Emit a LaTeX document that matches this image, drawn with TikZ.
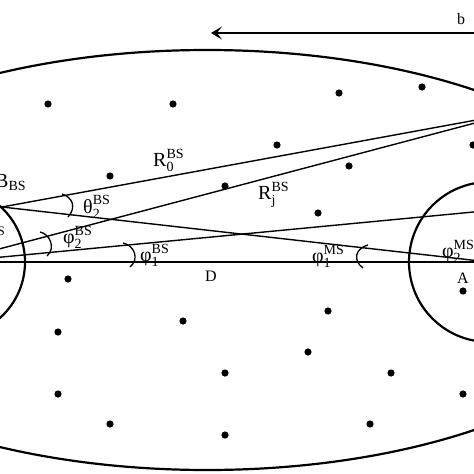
\documentclass[tikz,border=0pt]{standalone}
\usepackage{amsmath}
\usepackage{fontspec}
\setmainfont{Liberation Serif}
\usetikzlibrary{arrows.meta}

% label with stacked sub- and superscript
\newcommand{\lbl}[3]{$\text{#1}_{\text{#2}}^{\text{#3}}$}

\begin{document}
\begin{tikzpicture}[x=1pt, y=-1pt,
        biglbl/.style={font=\fontsize{20}{20}\selectfont, inner sep=0pt},
        midlbl/.style={font=\fontsize{16}{16}\selectfont, inner sep=0pt},
        smalllbl/.style={font=\fontsize{13}{13}\selectfont, inner sep=0pt},
        ray/.style={line width=1.4pt},
        border/.style={line width=2.2pt},
        tick/.style={line width=1.3pt},
        scat/.style={fill=black}]

        \useasboundingbox (0, 0) rectangle (474, 474);
        \clip (0, 0) rectangle (474, 474);

        % Main points of the geometry
        \coordinate (L) at (-50, 262);
        \coordinate (MS) at (489, 262);
        \coordinate (BS) at (2, 207);
        \coordinate (S0) at (509, 114);
        \coordinate (P4) at (530, 206.6);

        \coordinate (bStart) at (480, 33);
        \coordinate (bEnd) at (211, 33);

        % Scattering region and the two local circles
        \begin{scope}[border]
            \draw (207, 260) ellipse [x radius=455, y radius=210];
            \draw (L) circle (75);
            \draw (MS) circle (80);
        \end{scope}

        % Rays
        \begin{scope}[ray]
            \draw (BS) -- (S0);
            \draw (L) -- (S0);
            \draw (BS) -- (MS);
            \draw (L) -- (P4);
            \draw[line width=1.7pt] (L) -- (MS);
            \draw[-{Stealth[length=11pt, width=13pt, inset=5pt]}] (bStart) -- (bEnd);
        \end{scope}

        % Angle marks
        \begin{scope}[tick]
            \draw (62, 194) .. controls (72, 197) and (77, 207) .. (68, 217);
            \draw (40, 232) .. controls (50, 234) and (56, 248) .. (47, 256);
            \draw (123, 243) .. controls (134, 245) and (140, 259) .. (130, 267);
            \draw (368, 245) .. controls (356, 248) and (352, 260) .. (363, 268);
        \end{scope}

        % Scatterers
        \begin{scope}[scat]
            \fill (48, 104) circle (3.6);
            \fill (173, 104) circle (3.6);
            \fill (339, 93) circle (3.6);
            \fill (422, 87) circle (3.6);
            \fill (277, 145) circle (3.6);
            \fill (473, 145) circle (3.6);
            \fill (110, 176) circle (3.6);
            \fill (225, 186) circle (3.6);
            \fill (349, 166) circle (3.6);
            \fill (318, 213) circle (3.6);
            \fill (68, 279) circle (3.6);
            \fill (463, 291) circle (3.6);
            \fill (58, 332) circle (3.6);
            \fill (183, 321) circle (3.6);
            \fill (328, 311) circle (3.6);
            \fill (308, 352) circle (3.6);
            \fill (225, 373) circle (3.6);
            \fill (391, 373) circle (3.6);
            \fill (58, 394) circle (3.6);
            \fill (463, 394) circle (3.6);
            \fill (110, 424) circle (3.6);
            \fill (225, 435) circle (3.6);
            \fill (370, 424) circle (3.6);
        \end{scope}

        % Labels
        \node[biglbl, anchor=base west] (lR0) at (153, 166) {\lbl{R}{0}{BS}};
        \node[biglbl, anchor=base west] (lRj) at (258, 199) {\lbl{R}{j}{BS}};
        \node[biglbl, anchor=base west] (lth2) at (83, 213) {\lbl{θ}{2}{BS}};
        \node[biglbl, anchor=base west] (lph2) at (63, 243) {\lbl{φ}{2}{BS}};
        \node[biglbl, anchor=base west] (lph1) at (140, 261) {\lbl{φ}{1}{BS}};
        \node[biglbl, anchor=base west] (lph1m) at (312, 262) {\lbl{φ}{1}{MS}};
        \node[biglbl, anchor=base west] (lph2m) at (442, 257) {\lbl{φ}{2}{MS}};
        \node[biglbl, anchor=base west] (lB) at (-5, 187) {$\text{B}_{\text{BS}}$};
        \node[smalllbl, anchor=base east] (lMS) at (5, 235) {MS};
        \node[midlbl, anchor=base west] (lD) at (205, 281) {D};
        \node[midlbl, anchor=base west] (lA) at (457, 283) {A};
        \node[midlbl, anchor=base west] (lb) at (457, 24) {b};

\end{tikzpicture}
\end{document}
